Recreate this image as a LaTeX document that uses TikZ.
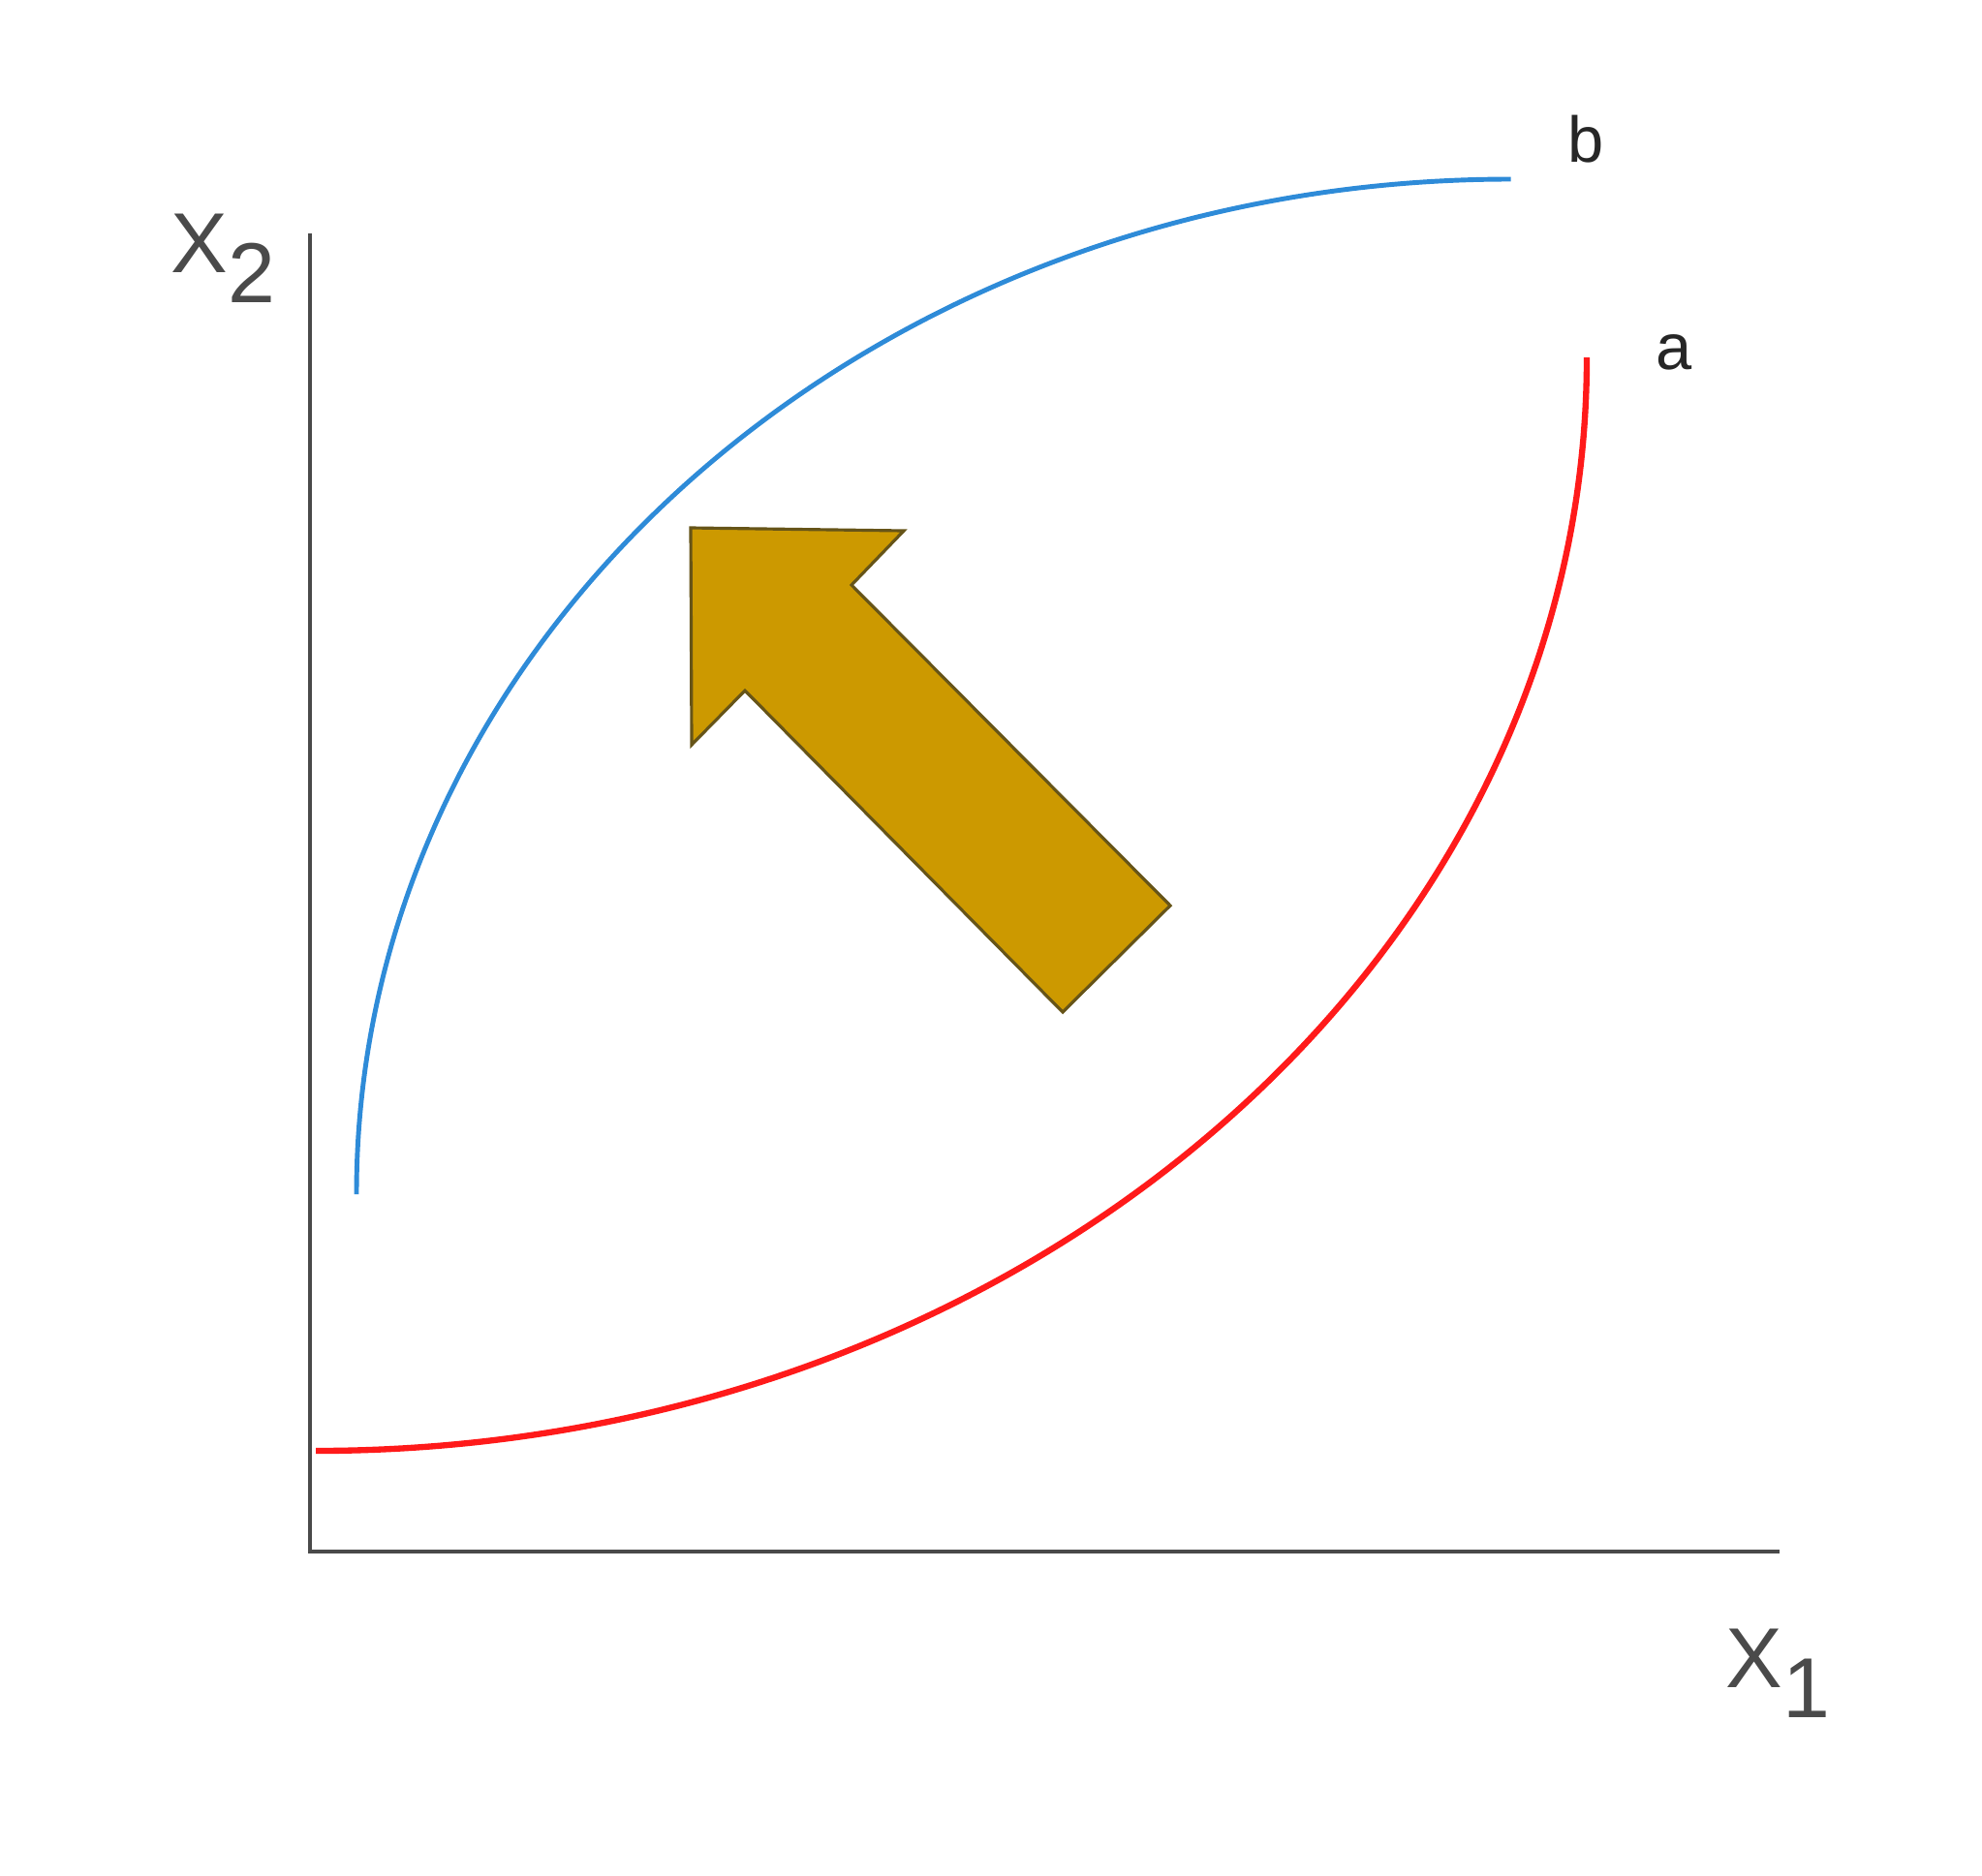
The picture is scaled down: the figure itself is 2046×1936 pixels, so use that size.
\documentclass[tikz,border=0pt]{standalone}
\usepackage{fontspec}
\setmainfont{Liberation Sans}
\definecolor{axisgray}{HTML}{4A4A4A}
\definecolor{curveblue}{HTML}{2E8BD8}
\definecolor{curvered}{HTML}{FF1A1A}
\definecolor{arrowfill}{HTML}{CC9900}
\definecolor{arrowline}{HTML}{665418}
\tikzset{
  axisline/.style={draw=axisgray, line width=1.4pt, line join=miter},
  bluecurve/.style={draw=curveblue, line width=1.4pt},
  redcurve/.style={draw=curvered, line width=1.8pt},
  bigarrow/.style={fill=arrowfill, draw=arrowline, line width=0.9pt, line join=miter},
  axlabel/.style={inner sep=0pt, anchor=base west, font=\fontsize{25}{25}\selectfont, text=axisgray},
  curvelabel/.style={inner sep=0pt, anchor=base west, font=\fontsize{19}{19}\selectfont, text=black!85}
}
\begin{document}
\begin{tikzpicture}[x=0.01cm, y=-0.01cm]
  \useasboundingbox (0,0) rectangle (2046,1936);
  % axes
  \coordinate (ytop) at (320,241);
  \coordinate (origin) at (320,1602);
  \coordinate (xend) at (1837,1602);
  \draw[axisline] (ytop) -- (origin) -- (xend);
  % curves
  \coordinate (b0) at (368,1233);
  \coordinate (b1) at (1559.5,185);
  \draw[bluecurve] (b0) .. controls (368,654) and (901.4,185) .. (b1);
  \coordinate (a0) at (326,1498);
  \coordinate (a1) at (1638,369);
  \draw[redcurve] (a0) .. controls (1050.6,1498) and (1638,992.5) .. (a1);
  % arrow
  \draw[bigarrow] (713,545) -- (933,548) -- (879,604) -- (1208,935) -- (1097,1045)
     -- (769,713) -- (714,769) -- cycle;
  % labels
  \node[axlabel] (x2) at (176,281) {X\raisebox{-0.36em}{2}};
  \node[axlabel] (x1) at (1781,1742) {X\raisebox{-0.36em}{1}};
  \node[curvelabel] (lb) at (1618,167) {b};
  \node[curvelabel] (la) at (1709,381) {a};
\end{tikzpicture}
\end{document}
